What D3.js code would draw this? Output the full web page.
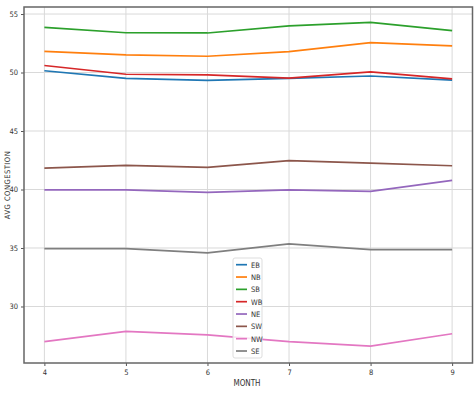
<!DOCTYPE html>
<html>
  <head>
    <meta http-equiv="content-type" content="text/html; charset=UTF-8">
    <title>avg congestion</title>
    <script type='text/javascript' src='https://d3js.org/d3.v7.min.js'></script>
    <style type='text/css'>
      body { margin: 0; background-color: white; }
      text { font-family: "DejaVu Sans Condensed", "DejaVu Sans", sans-serif; font-stretch: condensed; fill: #333; }
    </style>
  </head>
  <body>
    <script type='text/javascript'>
      // data
      var months = [4, 5, 6, 7, 8, 9];
      var directions = ["EB", "NB", "SB", "WB", "NE", "SW", "NW", "SE"];
      var EB = [50.15, 49.5, 49.33, 49.5, 49.7, 49.35];
      var NB = [51.8, 51.5, 51.39, 51.78, 52.55, 52.27];
      var SB = [53.86, 53.4, 53.38, 53.98, 54.29, 53.58];
      var WB = [50.6, 49.85, 49.8, 49.52, 50.05, 49.45];
      var NE = [39.96, 39.97, 39.75, 39.96, 39.84, 40.78];
      var SW = [41.83, 42.06, 41.89, 42.46, 42.26, 42.03];
      var NW = [27.0, 27.87, 27.58, 27.0, 26.61, 27.67];
      var SE = [34.95, 34.95, 34.58, 35.35, 34.86, 34.86];
      var yTicks = [30, 35, 40, 45, 50, 55];

      var seriesValues = { EB: EB, NB: NB, SB: SB, WB: WB, NE: NE, SW: SW, NW: NW, SE: SE };
      var colors = ["#1f77b4", "#ff7f0e", "#2ca02c", "#d62728", "#9467bd", "#8c564b", "#e377c2", "#7f7f7f"];

      var w = 474, h = 395;
      var m = { left: 24, top: 7, right: 1.5, bottom: 32 };

      var svg = d3.select("body").append("svg").attr("width", w).attr("height", h);

      var x = d3.scaleLinear().domain([3.75, 9.25]).range([m.left, w - m.right]);
      var y = d3.scaleLinear().domain([25.17, 55.6]).range([h - m.bottom, m.top]);

      // grid
      svg.append("g").selectAll("line").data(months).enter().append("line")
        .attr("x1", function(d) { return x(d); }).attr("x2", function(d) { return x(d); })
        .attr("y1", m.top).attr("y2", h - m.bottom)
        .style("stroke", "#d9d9d9").style("stroke-width", 1);
      svg.append("g").selectAll("line").data(yTicks).enter().append("line")
        .attr("y1", function(d) { return y(d); }).attr("y2", function(d) { return y(d); })
        .attr("x1", m.left).attr("x2", w - m.right)
        .style("stroke", "#d9d9d9").style("stroke-width", 1);

      // lines
      var line = d3.line()
        .x(function(d, i) { return x(months[i]); })
        .y(function(d) { return y(d); });
      directions.forEach(function(k, i) {
        svg.append("path").datum(seriesValues[k])
          .attr("d", line)
          .style("fill", "none").style("stroke", colors[i]).style("stroke-width", 1.7);
      });

      // axes
      var xAxis = svg.append("g").attr("transform", "translate(0," + (h - m.bottom) + ")")
        .call(d3.axisBottom(x).tickValues(months).tickSize(3).tickPadding(4).tickFormat(d3.format("d")));
      var yAxis = svg.append("g").attr("transform", "translate(" + m.left + ",0)")
        .call(d3.axisLeft(y).tickValues(yTicks).tickSize(3).tickPadding(3).tickFormat(d3.format("d")));
      [xAxis, yAxis].forEach(function(a) {
        a.select(".domain").remove();
        a.selectAll(".tick line").style("stroke", "#555");
        a.selectAll(".tick text").style("font-size", "7.5px").style("fill", "#333");
      });

      // frame
      svg.append("rect")
        .attr("x", m.left).attr("y", m.top)
        .attr("width", w - m.right - m.left).attr("height", h - m.bottom - m.top)
        .style("fill", "none").style("stroke", "#666").style("stroke-width", 1.5);

      // axis labels
      svg.append("text").attr("x", 247).attr("y", 386)
        .attr("text-anchor", "middle").style("font-size", "8px").text("MONTH");
      svg.append("text").attr("transform", "translate(9.5," + ((m.top + h - m.bottom) / 2) + ") rotate(-90)")
        .attr("text-anchor", "middle").style("font-size", "7.5px").style("letter-spacing", "0.5px")
        .text("AVG CONGESTION");

      // legend
      var lg = svg.append("g").attr("transform", "translate(233,258)");
      lg.append("rect").attr("width", 29).attr("height", 100).attr("rx", 2)
        .style("fill", "white").style("fill-opacity", 0.8).style("stroke", "#ddd");
      var item = lg.selectAll("g.item").data(directions).enter().append("g")
        .attr("transform", function(d, i) { return "translate(0," + (6.7 + i * 12.33) + ")"; });
      item.append("line").attr("x1", 3).attr("x2", 14)
        .style("stroke", function(d, i) { return colors[i]; }).style("stroke-width", 1.7);
      item.append("text").attr("x", 18).attr("y", 3).style("font-size", "7.5px")
        .text(function(d) { return d; });
    </script>
  </body>
</html>
